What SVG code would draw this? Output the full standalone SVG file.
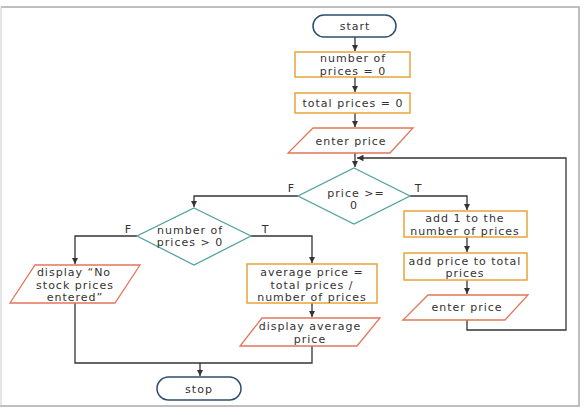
<svg xmlns="http://www.w3.org/2000/svg" width="587" height="415" viewBox="0 0 587 415">
<style>
.t{font-family:"DejaVu Sans",sans-serif;font-size:11px;fill:#333;text-anchor:middle;letter-spacing:1px}
.term{fill:#fff;stroke:#2e4d6e;stroke-width:1.5}
.proc{fill:#fff;stroke:#e8a43a;stroke-width:1.5}
.io{fill:#fff;stroke:#e2765a;stroke-width:1.3}
.dec{fill:#fff;stroke:#52a39c;stroke-width:1.3}
.c{fill:none;stroke:#333;stroke-width:1.3}
.lbl{font-family:"DejaVu Sans",sans-serif;font-size:11px;fill:#333;text-anchor:middle}
</style>
<defs>
<marker id="ah" viewBox="0 0 10 10" refX="10" refY="5" markerWidth="5" markerHeight="5" orient="auto">
<path d="M0,0 L10,5 L0,10 z" fill="#333"/>
</marker>
</defs>
<rect x="0" y="0" width="587" height="415" fill="#fff"/>
<path d="M1,7 H579 V406 H0" fill="none" stroke="#aaa" stroke-width="1.5"/>
<path d="M1,7 V406" fill="none" stroke="#ccc" stroke-width="1"/>
<g id="connectors">
<path class="c" d="M355,37 V51" marker-end="url(#ah)"/>
<path class="c" d="M355,77 V92" marker-end="url(#ah)"/>
<path class="c" d="M355,113 V127" marker-end="url(#ah)"/>
<path class="c" d="M355,153 V167" marker-end="url(#ah)"/>
<path class="c" d="M467,320 V330 H566 V158 H357" marker-end="url(#ah)"/>
<path class="c" d="M298,196 H194 V207" marker-end="url(#ah)"/>
<path class="c" d="M410,196 H467 V210" marker-end="url(#ah)"/>
<path class="c" d="M467,237 V252" marker-end="url(#ah)"/>
<path class="c" d="M467,280 V294" marker-end="url(#ah)"/>
<path class="c" d="M137,236 H75 V264" marker-end="url(#ah)"/>
<path class="c" d="M251,236 H312 V263" marker-end="url(#ah)"/>
<path class="c" d="M312,303 V317" marker-end="url(#ah)"/>
<path class="c" d="M75,303 V363 H312 V346"/>
<path class="c" d="M200,363 V376" marker-end="url(#ah)"/>
<text class="lbl" x="291" y="192">F</text>
<text class="lbl" x="418" y="192">T</text>
<text class="lbl" x="128" y="233">F</text>
<text class="lbl" x="265" y="233">T</text>
</g>
<g id="start">
<rect class="term" x="313" y="15" width="83" height="22" rx="11"/>
<text class="t" x="355" y="30">start</text>
</g>
<g id="init-count">
<rect class="proc" x="295" y="52" width="115" height="25"/>
<text class="t" x="353" y="62">number of</text>
<text class="t" x="353" y="74.5">prices = 0</text>
</g>
<g id="init-total">
<rect class="proc" x="295" y="93" width="115" height="20"/>
<text class="t" x="353" y="107">total prices = 0</text>
</g>
<g id="enter1">
<polygon class="io" points="313,128 413,128 390,153 288,153"/>
<text class="t" x="351" y="145">enter price</text>
</g>
<g id="dec1">
<polygon class="dec" points="354,168 410,196 354,224 298,196"/>
<text class="t" x="356" y="196.5">price &gt;=</text>
<text class="t" x="354" y="209">0</text>
</g>
<g id="add1">
<rect class="proc" x="404" y="211" width="123" height="26"/>
<text class="t" x="465" y="222">add 1 to the</text>
<text class="t" x="465" y="234.5">number of prices</text>
</g>
<g id="addprice">
<rect class="proc" x="404" y="253" width="123" height="27"/>
<text class="t" x="465" y="264.5">add price to total</text>
<text class="t" x="465" y="277">prices</text>
</g>
<g id="enter2">
<polygon class="io" points="428,295 528,295 505,320 403,320"/>
<text class="t" x="467" y="311">enter price</text>
</g>
<g id="dec2">
<polygon class="dec" points="194,208 251,236 194,265 137,236"/>
<text class="t" x="190" y="234">number of</text>
<text class="t" x="190" y="246">prices &gt; 0</text>
</g>
<g id="noprices">
<polygon class="io" points="35,265 140,265 115,303 10,303"/>
<text class="t" x="74" y="276">display “No</text>
<text class="t" x="75" y="288.5">stock prices</text>
<text class="t" x="75" y="301">entered”</text>
</g>
<g id="average">
<rect class="proc" x="247" y="264" width="130" height="39"/>
<text class="t" x="312" y="276">average price =</text>
<text class="t" x="312" y="288.5">total prices /</text>
<text class="t" x="312" y="301">number of prices</text>
</g>
<g id="displayavg">
<polygon class="io" points="262,318 380,318 357,346 240,346"/>
<text class="t" x="310" y="330">display average</text>
<text class="t" x="310" y="342.5">price</text>
</g>
<g id="stop">
<rect class="term" x="157" y="377" width="84" height="23" rx="11.5"/>
<text class="t" x="199" y="393">stop</text>
</g>
</svg>
